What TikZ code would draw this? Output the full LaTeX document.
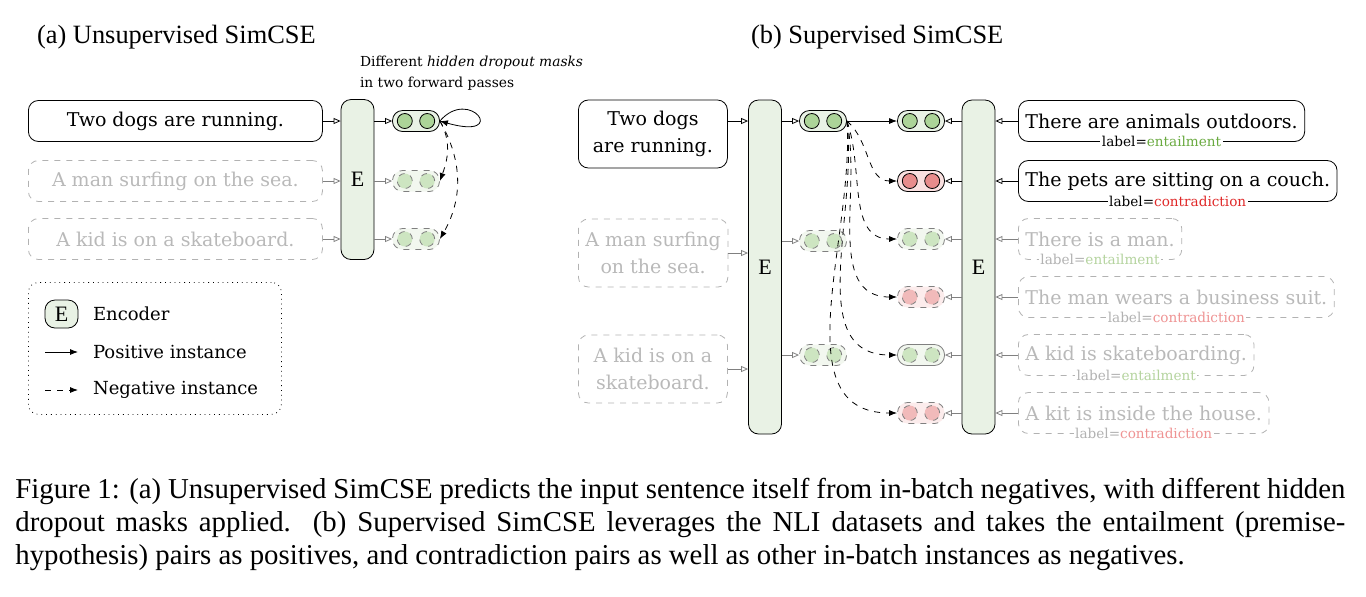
\documentclass[tikz,border=0pt]{standalone}
\usepackage{fontspec}
\setmainfont{Liberation Serif}
\newfontfamily\sentfont{DejaVu Serif}
\usetikzlibrary{arrows.meta,positioning}
\definecolor{encfill}{RGB}{233,242,229}
\definecolor{posdot}{RGB}{172,212,152}
\definecolor{posfill}{RGB}{233,242,229}
\definecolor{negdot}{RGB}{232,140,140}
\definecolor{negfill}{RGB}{250,224,224}
\definecolor{entcol}{RGB}{106,170,64}
\definecolor{concol}{RGB}{224,40,40}
\tikzset{
  sent/.style={draw, rounded corners=5pt, font=\sentfont\fontsize{9.5}{13.5}\selectfont, inner xsep=3.5pt, minimum height=20.5pt, anchor=west, align=center},
  faded/.style={draw=gray!60, dashed, text=gray!55},
  enc/.style={draw, fill=encfill, rounded corners=5pt, minimum width=16.5pt, font=\fontsize{11}{13}\selectfont},
  pill/.style={draw, rounded corners=5pt, minimum width=23.5pt, minimum height=10.5pt, inner sep=0pt},
  dot/.style={draw, circle, minimum size=7.5pt, inner sep=0pt},
  lab/.style={fill=white, inner sep=0.8pt, font=\sentfont\fontsize{6.8}{8}\selectfont},
  fwd/.style={-{Triangle[open,length=3.5pt,width=3pt]}},
  neg/.style={dashed, -{Latex[length=4pt]}},
  title/.style={font=\fontsize{13.2}{15}\selectfont, anchor=west},
}
% pill: name, position, pill style, dot style
\newcommand{\pill}[4]{%
  \node[pill,#3] (#1) at (#2) {};
  \node[dot,#4] at ([xshift=-5.6pt]#1.center) {};
  \node[dot,#4] at ([xshift=5.6pt]#1.center) {};
}
\begin{document}
\begin{tikzpicture}[x=0.5pt,y=-0.5pt]
  \useasboundingbox (0,0) rectangle (1366,596);

  % (a) unsupervised
  \node[title] (ta) at (30,37) {(a) Unsupervised SimCSE};
  \node[sent, minimum width=147pt] (a1) at (28,121) {Two dogs are running.};
  \node[sent, faded, minimum width=147pt] (a2) at (28,181) {A man surfing on the sea.};
  \node[sent, faded, minimum width=147pt] (a3) at (28,239) {A kid is on a skateboard.};
  \node[enc, minimum height=80pt] (ea) at (357.5,179.5) {E};
  \pill{pa1}{416,121}{fill=posfill}{fill=posdot}
  \pill{pa2}{416,181}{dashed,draw=gray,fill=posfill!60}{dashed,draw=gray,fill=posdot!60}
  \pill{pa3}{416,239}{dashed,draw=gray,fill=posfill!60}{dashed,draw=gray,fill=posdot!60}
  \node[anchor=west, align=left, font=\sentfont\fontsize{6.9}{10.5}\selectfont] (note) at (353,73)
    {Different \textit{hidden dropout masks}\\in two forward passes};

  \draw[fwd] (a1.east) -- (ea.west |- a1.east);
  \draw[fwd, gray] (a2.east) -- (ea.west |- a2.east);
  \draw[fwd, gray] (a3.east) -- (ea.west |- a3.east);
  \draw[fwd] (ea.east |- pa1.west) -- (pa1.west);
  \draw[fwd, gray] (ea.east |- pa2.west) -- (pa2.west);
  \draw[fwd, gray] (ea.east |- pa3.west) -- (pa3.west);
  \draw[-{Latex[length=4pt]}] (pa1.east) .. controls +(30,-35) and +(70,20) .. (pa1.east);
  \draw[neg] (pa1.east) to[out=-60,in=70] (pa2.east);
  \draw[neg] (pa1.east) to[out=-60,in=60] (pa3.east);

  % legend
  \node[draw, dotted, rounded corners=5pt, minimum width=126.5pt, minimum height=66pt, anchor=north west] (leg) at (28,282) {};
  \node[enc, minimum width=16.5pt, minimum height=14pt] (le) at (61.5,314) {E};
  \node[anchor=west, font=\sentfont\fontsize{9}{12}\selectfont] (lt1) at (86,314) {Encoder};
  \coordinate (lp0) at (45,352);
  \coordinate (lp1) at (78,352);
  \node[anchor=west, font=\sentfont\fontsize{9}{12}\selectfont] (lt2) at (86,352) {Positive instance};
  \coordinate (ln0) at (45,390);
  \coordinate (ln1) at (78,390);
  \node[anchor=west, font=\sentfont\fontsize{9}{12}\selectfont] (lt3) at (86,390) {Negative instance};
  \draw[-{Latex[length=4pt]}] (lp0) -- (lp1);
  \draw[neg] (ln0) -- (ln1);

  % (b) supervised
  \node[title] (tb) at (744,37) {(b) Supervised SimCSE};
  \node[sent, minimum width=74.5pt, minimum height=34pt] (b1) at (578,134) {Two dogs\\are running.};
  \node[sent, faded, minimum width=74.5pt, minimum height=34pt] (b2) at (578,253) {A man surfing\\on the sea.};
  \node[sent, faded, minimum width=74.5pt, minimum height=34pt] (b3) at (578,369) {A kid is on a\\skateboard.};
  \node[enc, minimum height=167pt] (el) at (765,267) {E};
  \node[enc, minimum height=167pt] (er) at (978.5,267) {E};

  \pill{pl1}{823,121}{fill=posfill}{fill=posdot}
  \pill{pl2}{823,241}{dashed,draw=gray,fill=posfill!60}{dashed,draw=gray,fill=posdot!60}
  \pill{pl3}{823,355}{dashed,draw=gray,fill=posfill!60}{dashed,draw=gray,fill=posdot!60}
  \pill{pr1}{921,121}{fill=posfill}{fill=posdot}
  \pill{pr2}{921,181}{fill=negfill}{fill=negdot}
  \pill{pr3}{921,239}{dashed,draw=gray,fill=posfill!60}{dashed,draw=gray,fill=posdot!60}
  \pill{pr4}{921,297}{dashed,draw=gray,fill=negfill!60}{dashed,draw=gray,fill=negdot!60}
  \pill{pr5}{921,355}{draw=gray,fill=posfill!60}{dashed,draw=gray,fill=posdot!60}
  \pill{pr6}{921,413}{dashed,draw=gray,fill=negfill!60}{dashed,draw=gray,fill=negdot!60}

  \node[sent] (h1) at (1018,121) {There are animals outdoors.};
  \node[sent] (h2) at (1018,181) {The pets are sitting on a couch.};
  \node[sent, faded] (h3) at (1018,239) {There is a man.};
  \node[sent, faded] (h4) at (1018,297) {The man wears a business suit.};
  \node[sent, faded] (h5) at (1018,355) {A kid is skateboarding.};
  \node[sent, faded] (h6) at (1018,413) {A kit is inside the house.};
  \node[lab] at (h1.south) {label=\textcolor{entcol}{entailment}};
  \node[lab] at (h2.south) {label=\textcolor{concol}{contradiction}};
  \node[lab, text=gray!60] at (h3.south) {label=\textcolor{entcol!50}{entailment}};
  \node[lab, text=gray!60] at (h4.south) {label=\textcolor{concol!50}{contradiction}};
  \node[lab, text=gray!60] at (h5.south) {label=\textcolor{entcol!50}{entailment}};
  \node[lab, text=gray!60] at (h6.south) {label=\textcolor{concol!50}{contradiction}};

  \draw[fwd] (b1.east |- pl1.west) -- (el.west |- pl1.west);
  \draw[fwd, gray] (b2.east) -- (el.west |- b2.east);
  \draw[fwd, gray] (b3.east) -- (el.west |- b3.east);
  \draw[fwd] (el.east |- pl1.west) -- (pl1.west);
  \draw[fwd, gray] (el.east |- pl2.west) -- (pl2.west);
  \draw[fwd, gray] (el.east |- pl3.west) -- (pl3.west);
  \draw[fwd] (h1.west) -- (er.east |- h1.west);
  \draw[fwd] (h2.west) -- (er.east |- h2.west);
  \draw[fwd, gray] (h3.west) -- (er.east |- h3.west);
  \draw[fwd, gray] (h4.west) -- (er.east |- h4.west);
  \draw[fwd, gray] (h5.west) -- (er.east |- h5.west);
  \draw[fwd, gray] (h6.west) -- (er.east |- h6.west);
  \draw[fwd] (er.west |- pr1.east) -- (pr1.east);
  \draw[fwd] (er.west |- pr2.east) -- (pr2.east);
  \draw[fwd, gray] (er.west |- pr3.east) -- (pr3.east);
  \draw[fwd, gray] (er.west |- pr4.east) -- (pr4.east);
  \draw[fwd, gray] (er.west |- pr5.east) -- (pr5.east);
  \draw[fwd, gray] (er.west |- pr6.east) -- (pr6.east);
  \draw[-{Latex[length=4pt]}] (pl1.east) -- (pr1.west);
  \draw[neg] (pl1.east) to[out=-40,in=180] (pr2.west);
  \draw[neg] (pl1.east) to[out=-70,in=180] (pr3.west);
  \draw[neg] (pl1.east) to[out=-78,in=180] (pr4.west);
  \draw[neg] (pl1.east) to[out=-83,in=180] (pr5.west);
  \draw[neg] (pl1.east) to[out=-86,in=180] (pr6.west);

  % caption
  \node[anchor=north west, text width=665pt, align=justify, inner sep=0pt, font=\fontsize{14.4}{16.4}\selectfont] (cap) at (15,478)
    {Figure 1: (a) Unsupervised SimCSE predicts the input sentence itself from in-batch negatives, with different hidden\linebreak dropout masks applied.\ \ (b) Supervised SimCSE leverages the NLI datasets and takes the entailment (premise-\linebreak hypothesis) pairs as positives, and contradiction pairs as well as other in-batch instances as negatives.};
\end{tikzpicture}
\end{document}
